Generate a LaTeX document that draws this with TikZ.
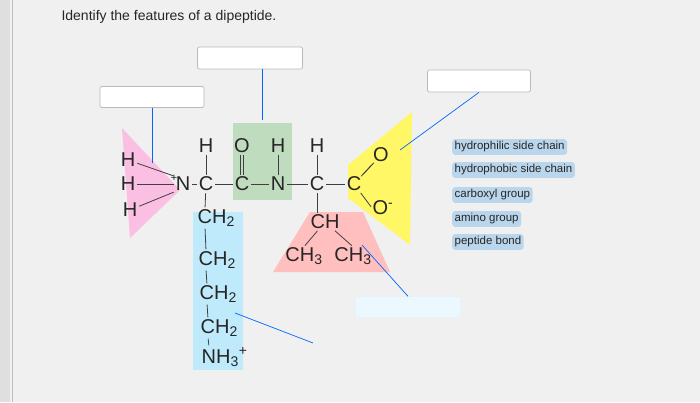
\documentclass[tikz,border=0pt]{standalone}
\usepackage{fontspec}
\setmainfont{Liberation Sans}
\definecolor{pillc}{RGB}{186,214,236}
\begin{document}
\begin{tikzpicture}[x=1pt,y=-1pt,
 atom/.style={inner sep=0.5pt,font=\fontsize{20}{20}\selectfont,text=black!85},
 chain/.style={atom,anchor=west},
 bond/.style={draw=black!75,line width=0.8pt,shorten <=1.5pt,shorten >=1.5pt},
 emptybox/.style={draw=gray!55,fill=white,rounded corners=2pt,line width=0.7pt},
 pill/.style={fill=pillc,rounded corners=3pt,inner sep=2.5pt,font=\fontsize{11.5}{12}\selectfont,text=black!85,anchor=west},
 lead/.style={draw=blue!60!cyan,line width=0.7pt}]
\useasboundingbox (0,0) rectangle (700,402);
\fill[gray!12] (0,0) rectangle (700,402);
\fill[gray!25] (0,0) rectangle (10,402);
\draw[gray!50] (12,0) -- (12,402);
\node[anchor=west,font=\fontsize{14}{15}\selectfont,text=black!85] (title) at (58,17) {Identify the features of a dipeptide.};
% shaded regions
\fill[magenta!25] (122,128) -- (180,190) -- (130,238) -- cycle;
\fill[green!45!black!25] (233,123) rectangle (292,200);
\fill[yellow!60] (348,165) -- (412,112) -- (410,245) -- (348,198) -- cycle;
\fill[red!25] (310,212) -- (363,212) -- (390,272) -- (273,272) -- cycle;
\fill[cyan!25] (193,212) rectangle (243,370);
% empty boxes
\node[emptybox,minimum width=105,minimum height=22] (b1) at (250,58) {};
\node[emptybox,minimum width=104,minimum height=21] (b2) at (152,97) {};
\node[emptybox,minimum width=103,minimum height=22] (b3) at (479,81) {};
\node[draw=cyan!15,fill=cyan!8,rounded corners=2pt,minimum width=105,minimum height=21] (b4) at (408,307) {};
% atoms
\node[atom] (Ha) at (128,160) {H};
\node[atom] (Hb) at (128,184) {H};
\node[atom] (Hc) at (130,210) {H};
\node[atom] (Np) at (174,178) {\fontsize{11}{11}\selectfont+};
\node[atom] (N1) at (183,184) {N};
\node[atom] (C1) at (206,184) {C};
\node[atom] (H1) at (206,146) {H};
\node[atom] (C2) at (242,184) {C};
\node[atom] (O1) at (242,146) {O};
\node[atom] (N2) at (278,184) {N};
\node[atom] (H2) at (278,146) {H};
\node[atom] (C3) at (317,184) {C};
\node[atom] (H3) at (317,146) {H};
\node[atom] (C4) at (354,184) {C};
\node[atom] (O2) at (381,155) {O};
\node[atom] (O3) at (383,208) {O\textsuperscript{-}};
\node[atom] (CH) at (325,222) {CH};
\node[atom] (M1) at (304,256) {CH\textsubscript{3}};
\node[atom] (M2) at (353,256) {CH\textsubscript{3}};
\node[chain] (S1) at (197,218) {CH\textsubscript{2}};
\node[chain] (S2) at (198,260) {CH\textsubscript{2}};
\node[chain] (S3) at (199,294) {CH\textsubscript{2}};
\node[chain] (S4) at (200,328) {CH\textsubscript{2}};
\node[chain] (S5) at (201,357) {NH\textsubscript{3}\textsuperscript{+}};
% bonds
\draw[bond] (Ha) -- (N1.north west);
\draw[bond] (Hb) -- (N1.west);
\draw[bond] (Hc) -- (N1.south west);
\draw[bond] (N1) -- (C1);
\draw[bond] (C1) -- (C2);
\draw[bond] (C2) -- (N2);
\draw[bond] (N2) -- (C3);
\draw[bond] (C3) -- (C4);
\draw[bond] (C1) -- (H1);
\draw[bond] (N2) -- (H2);
\draw[bond] (C3) -- (H3);
\draw[bond,transform canvas={xshift=-1.5pt}] (C2) -- (O1);
\draw[bond,transform canvas={xshift=1.5pt}] (C2) -- (O1);
\draw[bond,transform canvas={xshift=-1.2pt,yshift=-1.2pt}] (C4) -- (O2);
\draw[bond,transform canvas={xshift=1.2pt,yshift=1.2pt}] (C4) -- (O2);
\draw[bond] (C4) -- (O3.west);
\draw[bond] (C3) -- (C3 |- CH.north);
\draw[bond] (CH) -- (M1.north);
\draw[bond] (CH) -- (M2.north);
\draw[bond] (C1) -- ([xshift=8pt]S1.north west);
\draw[bond] ([xshift=8pt]S1.south west) -- ([xshift=8pt]S2.north west);
\draw[bond] ([xshift=8pt]S2.south west) -- ([xshift=8pt]S3.north west);
\draw[bond] ([xshift=8pt]S3.south west) -- ([xshift=8pt]S4.north west);
\draw[bond] ([xshift=8pt]S4.south west) -- ([xshift=8pt]S5.north west);
% leader lines
\coordinate (e1) at (262,120);
\coordinate (e2) at (152,163);
\coordinate (e3) at (400,150);
\coordinate (s4) at (362,245);
\coordinate (s5) at (235,313);
\coordinate (e5) at (313,343);
\draw[lead] (b1.south -| e1) -- (e1);
\draw[lead] (b2.south) -- (e2);
\draw[lead] (b3.south) -- (e3);
\draw[lead] (s4) -- (b4.north);
\draw[lead] (s5) -- (e5);
% answer pills
\node[pill] (p1) at (452,147) {hydrophilic side chain};
\node[pill] (p2) at (452,170) {hydrophobic side chain};
\node[pill] (p3) at (452,195) {carboxyl group};
\node[pill] (p4) at (452,219) {amino group};
\node[pill] (p5) at (452,242) {peptide bond};
\end{tikzpicture}
\end{document}
